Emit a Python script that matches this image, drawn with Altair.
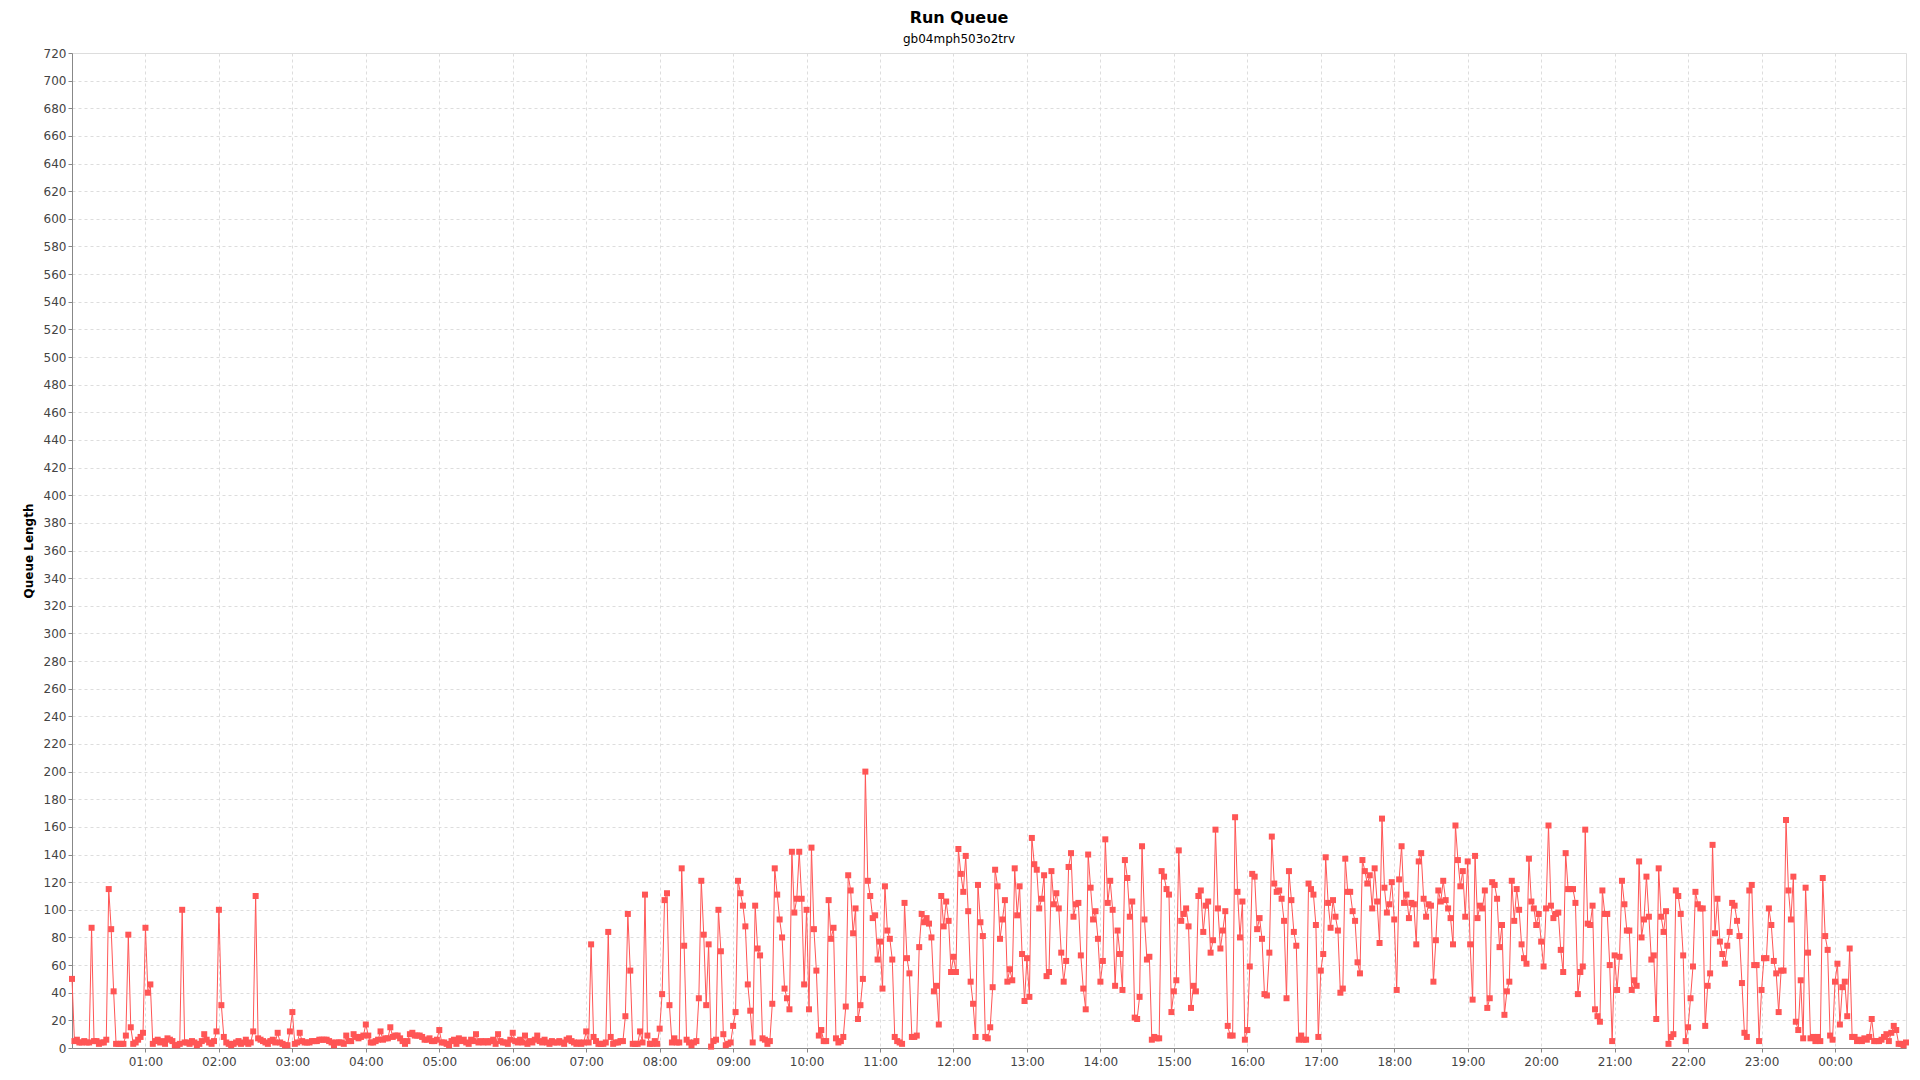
import altair as alt
import pandas as pd

# Run-queue samples, one list per hour (2-minute interval), starting 00:00
q00 = [50, 5, 6, 4, 4, 5, 4, 4, 87, 5, 5, 3, 4, 4, 6, 115, 86, 41, 3, 3, 3, 3, 9, 82, 15, 3, 4, 6, 8, 11]
q01 = [87, 40, 46, 3, 5, 6, 4, 5, 3, 7, 6, 5, 2, 2, 3, 100, 4, 4, 3, 5, 4, 2, 3, 5, 10, 6, 4, 3, 5, 12]
q02 = [100, 31, 8, 4, 3, 2, 3, 4, 5, 3, 4, 6, 3, 4, 12, 110, 7, 6, 5, 4, 3, 5, 6, 4, 11, 4, 3, 2, 2, 12]
q03 = [26, 3, 4, 11, 5, 4, 4, 4, 5, 5, 5, 6, 6, 6, 6, 5, 4, 2, 4, 4, 4, 3, 9, 5, 5, 10, 8, 7, 8, 9]
q04 = [17, 9, 4, 4, 5, 6, 12, 6, 7, 7, 15, 8, 9, 9, 7, 5, 3, 5, 10, 11, 9, 9, 9, 8, 6, 6, 7, 5, 5, 6]
q05 = [13, 4, 4, 3, 2, 5, 6, 3, 7, 5, 6, 4, 3, 6, 5, 10, 4, 5, 4, 5, 4, 5, 6, 3, 10, 5, 4, 4, 3, 6]
q06 = [11, 5, 4, 6, 4, 9, 3, 5, 4, 6, 9, 5, 4, 6, 4, 3, 5, 4, 4, 5, 4, 3, 6, 7, 5, 4, 3, 4, 3, 4]
q07 = [12, 4, 75, 8, 5, 3, 3, 3, 4, 84, 8, 3, 4, 4, 5, 5, 23, 97, 56, 3, 3, 3, 12, 4, 111, 9, 3, 3, 5, 3]
q08 = [14, 39, 107, 112, 31, 4, 7, 4, 4, 130, 74, 6, 4, 2, 4, 5, 36, 121, 82, 31, 75, 1, 5, 6, 100, 70, 10, 2, 3, 4]
q09 = [16, 26, 121, 112, 103, 88, 46, 27, 4, 103, 72, 67, 7, 6, 3, 5, 32, 130, 111, 93, 80, 43, 36, 28, 142, 98, 108, 142, 108, 46]
q10 = [100, 28, 145, 86, 56, 9, 13, 5, 5, 107, 79, 87, 7, 4, 5, 8, 30, 125, 114, 83, 101, 21, 31, 50, 200, 121, 110, 94, 96, 64]
q11 = [77, 43, 117, 85, 79, 64, 8, 5, 4, 3, 105, 65, 54, 8, 8, 9, 73, 97, 91, 94, 90, 80, 41, 45, 17, 110, 88, 106, 92, 55]
q12 = [66, 55, 144, 126, 113, 139, 99, 48, 32, 8, 118, 91, 81, 8, 7, 15, 44, 129, 117, 79, 93, 107, 48, 57, 49, 130, 96, 117, 68, 34]
q13 = [65, 37, 152, 133, 129, 101, 108, 125, 52, 55, 128, 104, 112, 101, 69, 48, 63, 131, 141, 95, 104, 105, 67, 43, 28, 140, 116, 93, 99, 79]
q14 = [48, 63, 151, 105, 121, 100, 45, 85, 68, 42, 136, 123, 95, 106, 22, 21, 37, 146, 93, 64, 66, 6, 8, 7, 7, 128, 124, 115, 111, 26]
q15 = [41, 49, 143, 92, 97, 101, 88, 29, 45, 41, 110, 114, 84, 103, 106, 69, 78, 158, 101, 72, 85, 99, 16, 9, 9, 167, 113, 80, 106, 6]
q16 = [13, 59, 126, 124, 86, 94, 79, 39, 38, 69, 153, 119, 113, 114, 108, 92, 36, 128, 107, 84, 74, 6, 9, 6, 6, 119, 115, 111, 89, 8]
q17 = [56, 68, 138, 105, 87, 107, 95, 85, 40, 43, 137, 113, 113, 99, 92, 62, 54, 136, 128, 119, 125, 101, 130, 106, 76, 166, 116, 98, 104, 120]
q18 = [93, 42, 122, 146, 105, 111, 94, 105, 104, 75, 135, 141, 108, 95, 104, 103, 48, 78, 114, 106, 121, 107, 101, 94, 75, 161, 136, 117, 128, 95]
q19 = [135, 75, 35, 139, 94, 103, 101, 114, 29, 36, 120, 118, 108, 73, 89, 24, 41, 48, 121, 92, 115, 100, 75, 65, 61, 137, 106, 101, 89, 97]
q20 = [77, 59, 101, 161, 103, 94, 97, 98, 71, 55, 141, 115, 115, 115, 105, 39, 55, 59, 158, 90, 89, 103, 28, 23, 19, 114, 97, 97, 60, 5]
q21 = [67, 42, 66, 121, 104, 85, 85, 42, 49, 45, 135, 80, 93, 124, 95, 64, 67, 21, 130, 95, 84, 99, 3, 8, 10, 114, 110, 97, 67, 5]
q22 = [15, 36, 59, 113, 104, 101, 101, 16, 45, 54, 147, 83, 108, 77, 68, 61, 74, 84, 105, 103, 92, 81, 47, 11, 8, 114, 118, 60, 60, 5]
q23 = [42, 65, 65, 101, 89, 63, 54, 26, 56, 56, 165, 114, 93, 124, 19, 13, 49, 7, 116, 69, 7, 8, 5, 8, 5, 123, 81, 71, 9, 6]
q24 = [48, 61, 17, 44, 48, 23, 72, 8, 8, 5, 6, 5, 7, 6, 8, 21, 5, 5, 5, 6, 8, 10, 5, 11, 16, 13, 3, 3, 2, 4]

START = "2024-01-01 00:00"
STEP = "2min"
y_ticks = list(range(0, 721, 20))

hours = [q00, q01, q02, q03, q04, q05, q06, q07, q08, q09, q10, q11, q12,
         q13, q14, q15, q16, q17, q18, q19, q20, q21, q22, q23, q24]
values = [v for h in hours for v in h]
times = pd.date_range(START, periods=len(values), freq=STEP)
df = pd.DataFrame({"time": times.strftime("%Y-%m-%dT%H:%M:%S"), "queue": values})

x_ticks = [alt.DateTime(year=2024, month=1, date=1, hours=h) for h in range(1, 24)]
x_ticks.append(alt.DateTime(year=2024, month=1, date=2, hours=0))

FONT = "DejaVu Sans"
COLOR = "#FF5555"

x_enc = alt.X(
    "time:T",
    scale=alt.Scale(
        domain=[alt.DateTime(year=2024, month=1, date=1, hours=0, minutes=0),
                alt.DateTime(year=2024, month=1, date=2, hours=0, minutes=58)],
        nice=False,
    ),
    axis=alt.Axis(
        values=x_ticks, format="%H:%M", title=None,
        labelFont=FONT, labelFontSize=12, labelColor="#444444", labelPadding=4,
        labelFlush=False, labelOverlap=False,
        tickSize=4, tickColor="#888888", domainColor="#888888",
        gridColor="#dddddd", gridDash=[3, 3], gridWidth=1,
    ),
)
y_enc = alt.Y(
    "queue:Q",
    scale=alt.Scale(domain=[0, 720], nice=False),
    axis=alt.Axis(
        values=y_ticks, title="Queue Length",
        titleFont=FONT, titleFontSize=12, titleFontWeight="bold", titleColor="#000000",
        titlePadding=8,
        labelFont=FONT, labelFontSize=12, labelColor="#444444", labelPadding=2,
        labelOverlap=False,
        tickSize=4, tickColor="#888888", domainColor="#888888",
        gridColor="#dddddd", gridDash=[3, 3], gridWidth=1,
    ),
)

base = alt.Chart(df).encode(x=x_enc, y=y_enc)
line = base.mark_line(color=COLOR, strokeWidth=1)
points = base.mark_point(shape="square", filled=True, size=36, color=COLOR, opacity=1)

chart = (
    alt.layer(line, points)
    .properties(
        width=1834,
        height=995,
        title=alt.TitleParams(
            text="Run Queue", subtitle="gb04mph503o2trv",
            font=FONT, fontSize=16, fontWeight="bold", color="#000000",
            subtitleFont=FONT, subtitleFontSize=12, subtitleColor="#000000",
            subtitlePadding=8, anchor="middle", dx=-30, offset=2,
        ),
        autosize=alt.AutoSizeParams(type="none"),
        padding={"left": 64, "top": 45, "right": 6, "bottom": 24},
    )
    .configure_view(strokeWidth=0)
    .configure(background="white")
)

chart.save("out.html", embed_options={"renderer": "svg", "actions": False})
